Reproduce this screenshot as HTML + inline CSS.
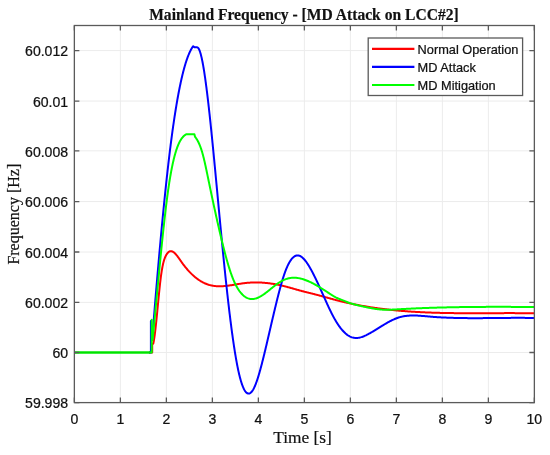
<!DOCTYPE html>
<html><head><meta charset="utf-8"><style>
html,body{margin:0;padding:0;background:#fff;width:550px;height:455px;overflow:hidden}
svg{display:block;filter:blur(0.3px)}
.sans{font-family:"Liberation Sans",Arial,sans-serif;font-size:14.6px;fill:#111;stroke:#111;stroke-width:0.25px}
.serif{font-family:"Liberation Serif","Times New Roman",serif;fill:#111;stroke:#111;stroke-width:0.2px}
</style></head><body>
<svg width="550" height="455" viewBox="0 0 550 455">
<rect x="0" y="0" width="550" height="455" fill="#fff"/>
<g stroke="#ececec" stroke-width="1.0" fill="none"><line x1="74.37" y1="25.50" x2="74.37" y2="402.60"/><line x1="120.37" y1="25.50" x2="120.37" y2="402.60"/><line x1="166.37" y1="25.50" x2="166.37" y2="402.60"/><line x1="212.37" y1="25.50" x2="212.37" y2="402.60"/><line x1="258.37" y1="25.50" x2="258.37" y2="402.60"/><line x1="304.37" y1="25.50" x2="304.37" y2="402.60"/><line x1="350.37" y1="25.50" x2="350.37" y2="402.60"/><line x1="396.37" y1="25.50" x2="396.37" y2="402.60"/><line x1="442.37" y1="25.50" x2="442.37" y2="402.60"/><line x1="488.37" y1="25.50" x2="488.37" y2="402.60"/><line x1="534.37" y1="25.50" x2="534.37" y2="402.60"/><line x1="74.37" y1="352.50" x2="534.37" y2="352.50"/><line x1="74.37" y1="302.40" x2="534.37" y2="302.40"/><line x1="74.37" y1="252.00" x2="534.37" y2="252.00"/><line x1="74.37" y1="201.55" x2="534.37" y2="201.55"/><line x1="74.37" y1="150.85" x2="534.37" y2="150.85"/><line x1="74.37" y1="101.05" x2="534.37" y2="101.05"/><line x1="74.37" y1="50.60" x2="534.37" y2="50.60"/></g>
<path d="M149.00,352.60 L152.20,352.60 L152.20,344.50 L153.30,343.50 L153.30,343.50 L153.46,342.78 L153.60,342.09 L153.74,341.35 L153.87,340.62 L153.99,339.92 L154.11,339.18 L154.22,338.47 L154.33,337.74 L154.44,336.98 L154.54,336.27 L154.64,335.54 L154.74,334.80 L154.84,334.03 L154.93,333.33 L155.02,332.61 L155.11,331.87 L155.20,331.13 L155.29,330.37 L155.38,329.60 L155.47,328.82 L155.55,328.12 L155.63,327.40 L155.71,326.68 L155.79,325.95 L155.87,325.22 L155.95,324.47 L156.03,323.72 L156.11,322.96 L156.19,322.20 L156.27,321.43 L156.35,320.65 L156.43,319.87 L156.51,319.08 L156.59,318.29 L156.66,317.59 L156.73,316.89 L156.80,316.18 L156.87,315.48 L156.94,314.77 L157.01,314.05 L157.08,313.34 L157.15,312.62 L157.22,311.90 L157.29,311.18 L157.36,310.46 L157.43,309.74 L157.50,309.01 L157.57,308.29 L157.64,307.56 L157.71,306.84 L157.78,306.11 L157.85,305.38 L157.92,304.66 L157.99,303.93 L158.06,303.20 L158.13,302.48 L158.20,301.75 L158.27,301.03 L158.34,300.31 L158.41,299.59 L158.48,298.87 L158.55,298.15 L158.62,297.44 L158.69,296.73 L158.76,296.02 L158.83,295.31 L158.90,294.61 L158.97,293.91 L159.04,293.21 L159.12,292.42 L159.20,291.63 L159.28,290.85 L159.36,290.07 L159.44,289.30 L159.52,288.54 L159.60,287.78 L159.68,287.03 L159.76,286.28 L159.84,285.55 L159.92,284.82 L160.00,284.10 L160.08,283.39 L160.16,282.68 L160.25,281.90 L160.34,281.13 L160.43,280.37 L160.52,279.63 L160.61,278.90 L160.70,278.18 L160.79,277.48 L160.89,276.71 L160.99,275.96 L161.09,275.23 L161.19,274.52 L161.29,273.82 L161.40,273.08 L161.51,272.35 L161.62,271.64 L161.74,270.89 L161.86,270.16 L161.98,269.46 L162.11,268.72 L162.24,268.00 L162.37,267.31 L162.51,266.59 L162.65,265.90 L162.80,265.18 L162.95,264.50 L163.11,263.80 L163.28,263.09 L163.46,262.37 L163.64,261.69 L163.83,261.01 L164.03,260.33 L164.24,259.66 L164.47,258.98 L164.71,258.31 L164.97,257.64 L165.24,256.99 L165.53,256.35 L165.84,255.72 L166.18,255.09 L166.54,254.47 L166.93,253.87 L167.35,253.30 L167.81,252.76 L168.31,252.27 L168.87,251.83 L169.48,251.49 L170.15,251.26 L170.85,251.18 L171.55,251.25 L172.23,251.46 L172.87,251.76 L173.47,252.13 L174.04,252.56 L174.58,253.02 L175.09,253.51 L175.58,254.02 L176.05,254.55 L176.51,255.09 L176.96,255.65 L177.40,256.21 L177.83,256.78 L178.25,257.35 L178.66,257.92 L179.07,258.50 L179.48,259.08 L179.89,259.67 L180.29,260.25 L180.69,260.82 L181.10,261.41 L181.51,261.99 L181.92,262.57 L182.33,263.14 L182.75,263.72 L183.17,264.28 L183.60,264.86 L184.03,265.42 L184.46,265.97 L184.90,266.53 L185.34,267.09 L185.79,267.64 L186.24,268.19 L186.69,268.72 L187.15,269.26 L187.61,269.79 L188.08,270.32 L188.55,270.85 L189.03,271.37 L189.51,271.88 L190.00,272.40 L190.49,272.90 L190.99,273.40 L191.49,273.90 L192.00,274.39 L192.51,274.87 L193.03,275.35 L193.56,275.83 L194.09,276.29 L194.63,276.75 L195.17,277.20 L195.72,277.65 L196.27,278.08 L196.83,278.51 L197.40,278.93 L197.97,279.34 L198.55,279.75 L199.14,280.15 L199.73,280.53 L200.33,280.91 L200.93,281.27 L201.54,281.62 L202.16,281.97 L202.78,282.30 L203.41,282.62 L204.04,282.93 L204.68,283.22 L205.33,283.51 L205.98,283.78 L206.64,284.04 L207.30,284.28 L207.97,284.51 L208.64,284.72 L209.32,284.92 L210.00,285.10 L210.68,285.27 L211.37,285.43 L212.06,285.57 L212.75,285.70 L213.45,285.82 L214.15,285.92 L214.85,286.00 L215.55,286.08 L216.25,286.14 L216.95,286.19 L217.65,286.22 L218.35,286.25 L219.05,286.27 L219.75,286.27 L220.45,286.26 L221.15,286.25 L221.85,286.22 L222.55,286.19 L223.25,286.15 L223.95,286.10 L224.65,286.04 L225.35,285.97 L226.05,285.90 L226.75,285.83 L227.45,285.74 L228.15,285.66 L228.85,285.56 L229.55,285.46 L230.25,285.36 L230.95,285.26 L231.65,285.15 L232.35,285.04 L233.05,284.93 L233.75,284.81 L234.45,284.69 L235.15,284.58 L235.85,284.46 L236.55,284.34 L237.25,284.22 L237.95,284.11 L238.65,283.99 L239.35,283.88 L240.05,283.77 L240.75,283.66 L241.45,283.55 L242.15,283.45 L242.85,283.35 L243.55,283.26 L244.25,283.17 L244.95,283.08 L245.65,283.01 L246.35,282.93 L247.05,282.86 L247.75,282.80 L248.45,282.74 L249.15,282.69 L249.85,282.65 L250.55,282.60 L251.25,282.57 L251.95,282.54 L252.65,282.51 L253.35,282.49 L254.05,282.47 L254.75,282.46 L255.45,282.46 L256.15,282.46 L256.85,282.46 L257.55,282.47 L258.25,282.48 L258.95,282.50 L259.65,282.52 L260.35,282.55 L261.05,282.59 L261.75,282.62 L262.45,282.67 L263.15,282.71 L263.85,282.77 L264.55,282.82 L265.25,282.88 L265.95,282.95 L266.65,283.02 L267.35,283.09 L268.05,283.17 L268.75,283.26 L269.45,283.35 L270.15,283.44 L270.85,283.53 L271.55,283.64 L272.25,283.74 L272.95,283.85 L273.65,283.97 L274.35,284.08 L275.04,284.21 L275.73,284.33 L276.42,284.46 L277.11,284.59 L277.80,284.73 L278.49,284.87 L279.18,285.01 L279.87,285.16 L280.56,285.32 L281.25,285.47 L281.94,285.63 L282.63,285.80 L283.32,285.96 L284.00,286.13 L284.68,286.30 L285.36,286.48 L286.04,286.65 L286.72,286.83 L287.40,287.01 L288.08,287.20 L288.76,287.38 L289.44,287.57 L290.12,287.76 L290.80,287.95 L291.48,288.14 L292.16,288.33 L292.84,288.52 L293.52,288.71 L294.20,288.90 L294.88,289.09 L295.56,289.29 L296.24,289.48 L296.92,289.67 L297.60,289.86 L298.28,290.05 L298.96,290.24 L299.64,290.42 L300.32,290.61 L301.00,290.79 L301.68,290.98 L302.36,291.16 L303.04,291.33 L303.72,291.51 L304.40,291.68 L305.08,291.86 L305.76,292.03 L306.44,292.20 L307.12,292.37 L307.80,292.54 L308.48,292.71 L309.16,292.88 L309.84,293.05 L310.52,293.22 L311.20,293.39 L311.88,293.56 L312.56,293.73 L313.24,293.90 L313.92,294.07 L314.60,294.25 L315.28,294.42 L315.96,294.60 L316.64,294.78 L317.32,294.96 L318.00,295.14 L318.68,295.32 L319.36,295.50 L320.04,295.69 L320.72,295.87 L321.40,296.06 L322.08,296.25 L322.76,296.44 L323.44,296.62 L324.12,296.81 L324.80,297.00 L325.48,297.19 L326.16,297.38 L326.84,297.57 L327.52,297.76 L328.20,297.95 L328.88,298.14 L329.56,298.33 L330.24,298.52 L330.92,298.71 L331.60,298.89 L332.28,299.08 L332.96,299.27 L333.64,299.45 L334.32,299.63 L335.00,299.81 L335.68,299.99 L336.36,300.17 L337.04,300.34 L337.72,300.52 L338.40,300.69 L339.08,300.86 L339.76,301.03 L340.44,301.20 L341.12,301.37 L341.81,301.54 L342.50,301.70 L343.19,301.87 L343.88,302.03 L344.57,302.19 L345.26,302.35 L345.95,302.51 L346.64,302.66 L347.33,302.82 L348.02,302.97 L348.71,303.13 L349.40,303.28 L350.09,303.43 L350.78,303.57 L351.47,303.72 L352.16,303.86 L352.85,304.01 L353.54,304.15 L354.23,304.29 L354.92,304.43 L355.61,304.57 L356.30,304.70 L356.99,304.84 L357.68,304.97 L358.37,305.10 L359.06,305.23 L359.75,305.36 L360.44,305.49 L361.13,305.62 L361.82,305.74 L362.51,305.87 L363.20,305.99 L363.89,306.11 L364.58,306.23 L365.27,306.35 L365.97,306.47 L366.67,306.58 L367.37,306.70 L368.07,306.81 L368.77,306.93 L369.47,307.04 L370.17,307.15 L370.87,307.26 L371.57,307.37 L372.27,307.47 L372.97,307.58 L373.67,307.68 L374.37,307.79 L375.07,307.89 L375.77,307.99 L376.47,308.09 L377.17,308.19 L377.87,308.28 L378.57,308.38 L379.27,308.47 L379.97,308.57 L380.67,308.66 L381.37,308.75 L382.07,308.84 L382.77,308.93 L383.47,309.01 L384.17,309.10 L384.87,309.18 L385.57,309.27 L386.27,309.35 L386.97,309.43 L387.67,309.51 L388.37,309.59 L389.07,309.67 L389.77,309.75 L390.47,309.82 L391.17,309.90 L391.87,309.97 L392.57,310.04 L393.27,310.11 L393.97,310.19 L394.67,310.25 L395.37,310.32 L396.07,310.39 L396.77,310.46 L397.47,310.52 L398.17,310.59 L398.87,310.65 L399.57,310.71 L400.27,310.77 L400.97,310.83 L401.67,310.89 L402.37,310.95 L403.07,311.01 L403.77,311.07 L404.47,311.12 L405.17,311.18 L405.87,311.23 L406.57,311.28 L407.27,311.33 L407.97,311.39 L408.67,311.44 L409.37,311.48 L410.07,311.53 L410.77,311.58 L411.47,311.63 L412.17,311.67 L412.87,311.72 L413.57,311.76 L414.27,311.80 L414.97,311.85 L415.67,311.89 L416.37,311.93 L417.07,311.97 L417.77,312.01 L418.47,312.05 L419.17,312.08 L419.87,312.12 L420.57,312.16 L421.27,312.19 L421.97,312.23 L422.67,312.26 L423.37,312.29 L424.07,312.32 L424.77,312.36 L425.47,312.39 L426.17,312.42 L426.87,312.45 L427.57,312.48 L428.27,312.50 L428.97,312.53 L429.67,312.56 L430.37,312.58 L431.07,312.61 L431.77,312.63 L432.47,312.66 L433.17,312.68 L433.87,312.70 L434.57,312.73 L435.27,312.75 L435.97,312.77 L436.67,312.79 L437.37,312.81 L438.07,312.83 L438.77,312.85 L439.47,312.86 L440.17,312.88 L440.87,312.90 L441.57,312.92 L442.27,312.93 L442.97,312.95 L443.67,312.96 L444.37,312.98 L445.07,312.99 L445.77,313.00 L446.47,313.02 L447.17,313.03 L447.87,313.04 L448.57,313.05 L449.27,313.06 L449.97,313.07 L450.67,313.08 L451.37,313.09 L452.07,313.10 L452.77,313.11 L453.47,313.12 L454.17,313.13 L454.87,313.13 L455.57,313.14 L456.27,313.15 L456.97,313.15 L457.67,313.16 L458.37,313.17 L459.07,313.17 L459.77,313.18 L460.47,313.18 L461.17,313.19 L461.87,313.19 L462.57,313.19 L463.27,313.20 L463.97,313.20 L464.67,313.20 L465.37,313.20 L466.07,313.21 L466.77,313.21 L467.47,313.21 L468.17,313.21 L468.87,313.21 L469.57,313.21 L470.27,313.22 L470.97,313.22 L471.67,313.22 L472.37,313.22 L473.07,313.22 L473.77,313.22 L474.47,313.21 L475.17,313.21 L475.87,313.21 L476.57,313.21 L477.27,313.21 L477.97,313.21 L478.67,313.21 L479.37,313.21 L480.07,313.20 L480.77,313.20 L481.47,313.20 L482.17,313.20 L482.87,313.20 L483.57,313.19 L484.27,313.19 L484.97,313.19 L485.67,313.19 L486.37,313.19 L487.07,313.18 L487.77,313.18 L488.47,313.18 L489.17,313.17 L489.87,313.17 L490.57,313.17 L491.27,313.17 L491.97,313.16 L492.67,313.16 L493.37,313.16 L494.07,313.16 L494.77,313.15 L495.47,313.15 L496.17,313.15 L496.87,313.15 L497.57,313.14 L498.27,313.14 L498.97,313.14 L499.67,313.14 L500.37,313.13 L501.07,313.13 L501.77,313.13 L502.47,313.13 L503.17,313.13 L503.87,313.13 L504.57,313.12 L505.27,313.12 L505.97,313.12 L506.67,313.12 L507.37,313.12 L508.07,313.12 L508.77,313.12 L509.47,313.12 L510.17,313.12 L510.87,313.12 L511.57,313.12 L512.27,313.12 L512.97,313.12 L513.67,313.12 L514.37,313.12 L515.07,313.13 L515.77,313.13 L516.47,313.13 L517.17,313.13 L517.87,313.14 L518.57,313.14 L519.27,313.14 L519.97,313.15 L520.67,313.15 L521.37,313.15 L522.07,313.16 L522.77,313.16 L523.47,313.17 L524.17,313.17 L524.87,313.18 L525.57,313.19 L526.27,313.19 L526.97,313.20 L527.67,313.21 L528.37,313.22 L529.07,313.22 L529.77,313.23 L530.47,313.24 L531.17,313.25 L531.87,313.26 L532.57,313.27 L533.27,313.28 L533.97,313.29 L534.30,313.30" fill="none" stroke="#ff0000" stroke-width="2.0" stroke-linejoin="round"/>
<path d="M149.00,352.60 L150.90,352.60 L150.90,321.00 L151.40,336.00 L152.20,339.00 L152.20,339.05 L152.26,338.29 L152.32,337.54 L152.38,336.79 L152.44,336.04 L152.50,335.28 L152.56,334.53 L152.62,333.78 L152.68,333.03 L152.74,332.28 L152.80,331.53 L152.86,330.78 L152.92,330.04 L152.98,329.29 L153.04,328.54 L153.10,327.80 L153.16,327.05 L153.22,326.31 L153.28,325.56 L153.34,324.82 L153.40,324.07 L153.46,323.33 L153.52,322.59 L153.58,321.85 L153.64,321.11 L153.70,320.37 L153.76,319.63 L153.82,318.89 L153.88,318.15 L153.94,317.41 L154.00,316.68 L154.06,315.94 L154.12,315.20 L154.18,314.47 L154.24,313.74 L154.30,313.00 L154.36,312.27 L154.42,311.54 L154.48,310.80 L154.54,310.07 L154.60,309.34 L154.66,308.61 L154.72,307.88 L154.78,307.15 L154.84,306.43 L154.90,305.70 L154.96,304.97 L155.02,304.25 L155.08,303.52 L155.14,302.80 L155.20,302.07 L155.26,301.35 L155.32,300.63 L155.38,299.91 L155.44,299.18 L155.50,298.46 L155.56,297.74 L155.62,297.03 L155.68,296.31 L155.74,295.59 L155.80,294.87 L155.86,294.16 L155.92,293.44 L155.98,292.73 L156.04,292.01 L156.10,291.30 L156.16,290.59 L156.22,289.87 L156.28,289.16 L156.34,288.45 L156.40,287.74 L156.46,287.03 L156.52,286.32 L156.58,285.62 L156.64,284.91 L156.70,284.20 L156.76,283.50 L156.82,282.79 L156.88,282.09 L156.94,281.39 L157.00,280.68 L157.06,279.98 L157.12,279.28 L157.18,278.58 L157.24,277.88 L157.30,277.18 L157.36,276.48 L157.43,275.67 L157.50,274.86 L157.57,274.05 L157.64,273.24 L157.71,272.43 L157.78,271.62 L157.85,270.81 L157.92,270.01 L157.99,269.20 L158.06,268.40 L158.13,267.59 L158.20,266.79 L158.27,265.99 L158.34,265.19 L158.41,264.39 L158.48,263.60 L158.55,262.80 L158.62,262.00 L158.69,261.21 L158.76,260.42 L158.83,259.63 L158.90,258.83 L158.97,258.05 L159.04,257.26 L159.11,256.47 L159.18,255.68 L159.25,254.90 L159.32,254.11 L159.39,253.33 L159.46,252.55 L159.53,251.77 L159.60,250.99 L159.67,250.21 L159.74,249.43 L159.81,248.66 L159.88,247.88 L159.95,247.11 L160.02,246.34 L160.09,245.57 L160.16,244.80 L160.23,244.03 L160.30,243.26 L160.37,242.49 L160.44,241.73 L160.51,240.96 L160.58,240.20 L160.65,239.44 L160.72,238.68 L160.79,237.92 L160.86,237.16 L160.93,236.41 L161.00,235.65 L161.07,234.90 L161.14,234.14 L161.21,233.39 L161.28,232.64 L161.35,231.89 L161.42,231.14 L161.49,230.40 L161.56,229.65 L161.63,228.91 L161.70,228.16 L161.77,227.42 L161.84,226.68 L161.91,225.94 L161.98,225.20 L162.05,224.47 L162.12,223.73 L162.19,223.00 L162.26,222.26 L162.33,221.53 L162.40,220.80 L162.47,220.07 L162.54,219.35 L162.61,218.62 L162.68,217.90 L162.75,217.17 L162.82,216.45 L162.89,215.73 L162.96,215.01 L163.03,214.29 L163.10,213.57 L163.17,212.86 L163.24,212.14 L163.31,211.43 L163.38,210.72 L163.45,210.01 L163.52,209.30 L163.59,208.59 L163.66,207.89 L163.73,207.18 L163.80,206.48 L163.87,205.78 L163.94,205.08 L164.01,204.38 L164.08,203.68 L164.16,202.88 L164.24,202.09 L164.32,201.30 L164.40,200.51 L164.48,199.72 L164.56,198.93 L164.64,198.15 L164.72,197.36 L164.80,196.58 L164.88,195.80 L164.96,195.03 L165.04,194.25 L165.12,193.48 L165.20,192.71 L165.28,191.94 L165.36,191.17 L165.44,190.40 L165.52,189.64 L165.60,188.88 L165.68,188.12 L165.76,187.36 L165.84,186.60 L165.92,185.85 L166.00,185.10 L166.08,184.35 L166.16,183.60 L166.24,182.85 L166.32,182.11 L166.40,181.37 L166.48,180.63 L166.56,179.89 L166.64,179.15 L166.72,178.42 L166.80,177.68 L166.88,176.95 L166.96,176.22 L167.04,175.50 L167.12,174.77 L167.20,174.05 L167.28,173.33 L167.36,172.61 L167.44,171.90 L167.52,171.18 L167.60,170.47 L167.68,169.76 L167.76,169.05 L167.84,168.35 L167.92,167.64 L168.00,166.94 L168.08,166.24 L168.16,165.54 L168.25,164.76 L168.34,163.98 L168.43,163.21 L168.52,162.43 L168.61,161.66 L168.70,160.89 L168.79,160.13 L168.88,159.36 L168.97,158.60 L169.06,157.84 L169.15,157.09 L169.24,156.34 L169.33,155.59 L169.42,154.84 L169.51,154.10 L169.60,153.36 L169.69,152.62 L169.78,151.88 L169.87,151.15 L169.96,150.42 L170.05,149.69 L170.14,148.97 L170.23,148.25 L170.32,147.53 L170.41,146.81 L170.50,146.10 L170.59,145.39 L170.68,144.68 L170.77,143.98 L170.86,143.28 L170.95,142.58 L171.04,141.88 L171.14,141.11 L171.24,140.34 L171.34,139.58 L171.44,138.82 L171.54,138.06 L171.64,137.31 L171.74,136.56 L171.84,135.81 L171.94,135.07 L172.04,134.33 L172.14,133.59 L172.24,132.86 L172.34,132.13 L172.44,131.40 L172.54,130.68 L172.64,129.96 L172.74,129.25 L172.84,128.53 L172.94,127.82 L173.04,127.12 L173.14,126.41 L173.24,125.71 L173.34,125.02 L173.44,124.33 L173.55,123.57 L173.66,122.81 L173.77,122.06 L173.88,121.32 L173.99,120.57 L174.10,119.84 L174.21,119.10 L174.32,118.37 L174.43,117.64 L174.54,116.92 L174.65,116.20 L174.76,115.49 L174.87,114.78 L174.98,114.07 L175.09,113.37 L175.20,112.67 L175.31,111.97 L175.43,111.22 L175.55,110.47 L175.67,109.73 L175.79,108.99 L175.91,108.25 L176.03,107.52 L176.15,106.79 L176.27,106.07 L176.39,105.36 L176.51,104.64 L176.63,103.94 L176.75,103.23 L176.87,102.53 L176.99,101.84 L177.11,101.15 L177.24,100.41 L177.37,99.67 L177.50,98.94 L177.63,98.21 L177.76,97.49 L177.89,96.78 L178.02,96.07 L178.15,95.36 L178.28,94.66 L178.41,93.97 L178.54,93.28 L178.68,92.54 L178.82,91.81 L178.96,91.08 L179.10,90.36 L179.24,89.65 L179.38,88.94 L179.52,88.24 L179.66,87.55 L179.80,86.86 L179.95,86.13 L180.10,85.40 L180.25,84.68 L180.40,83.97 L180.55,83.26 L180.70,82.57 L180.85,81.87 L181.00,81.19 L181.16,80.47 L181.32,79.75 L181.48,79.04 L181.64,78.34 L181.80,77.65 L181.96,76.96 L182.13,76.24 L182.30,75.53 L182.47,74.82 L182.64,74.13 L182.81,73.44 L182.98,72.76 L183.16,72.05 L183.34,71.35 L183.52,70.66 L183.70,69.97 L183.89,69.26 L184.08,68.56 L184.27,67.87 L184.46,67.19 L184.66,66.49 L184.86,65.79 L185.06,65.11 L185.26,64.44 L185.47,63.74 L185.68,63.06 L185.89,62.39 L186.11,61.70 L186.33,61.03 L186.56,60.33 L186.79,59.65 L187.02,58.99 L187.26,58.31 L187.50,57.65 L187.75,56.97 L188.00,56.31 L188.26,55.65 L188.52,55.00 L188.79,54.34 L189.07,53.68 L189.36,53.02 L189.65,52.37 L189.95,51.73 L190.26,51.09 L190.58,50.46 L190.91,49.83 L191.25,49.21 L191.60,48.60 L191.97,47.99 L192.35,47.40 L192.75,46.81 L193.17,46.24 L193.20,46.20 L193.20,46.20 L194.50,47.30 L197.20,47.30 L197.20,47.30 L197.83,47.59 L198.32,48.11 L198.71,48.70 L199.04,49.32 L199.34,49.98 L199.61,50.65 L199.86,51.33 L200.09,52.01 L200.31,52.70 L200.51,53.37 L200.71,54.08 L200.90,54.79 L201.08,55.49 L201.25,56.17 L201.42,56.88 L201.58,57.57 L201.74,58.29 L201.89,58.97 L202.04,59.68 L202.19,60.40 L202.33,61.10 L202.47,61.80 L202.61,62.53 L202.75,63.27 L202.88,63.97 L203.01,64.68 L203.14,65.40 L203.27,66.14 L203.39,66.83 L203.51,67.54 L203.63,68.25 L203.75,68.97 L203.87,69.71 L203.99,70.45 L204.11,71.21 L204.22,71.91 L204.33,72.62 L204.44,73.33 L204.55,74.06 L204.66,74.79 L204.77,75.53 L204.88,76.28 L204.99,77.04 L205.09,77.73 L205.19,78.43 L205.29,79.14 L205.39,79.85 L205.49,80.57 L205.59,81.30 L205.69,82.03 L205.79,82.76 L205.89,83.51 L205.99,84.26 L206.09,85.01 L206.19,85.77 L206.29,86.54 L206.38,87.23 L206.47,87.93 L206.56,88.63 L206.65,89.34 L206.74,90.05 L206.83,90.77 L206.92,91.49 L207.01,92.22 L207.10,92.94 L207.19,93.68 L207.28,94.41 L207.37,95.16 L207.46,95.90 L207.55,96.65 L207.64,97.40 L207.73,98.16 L207.82,98.92 L207.91,99.69 L208.00,100.45 L208.09,101.23 L208.18,102.00 L208.27,102.78 L208.35,103.48 L208.43,104.17 L208.51,104.88 L208.59,105.58 L208.67,106.29 L208.75,106.99 L208.83,107.71 L208.91,108.42 L208.99,109.14 L209.07,109.86 L209.15,110.58 L209.23,111.30 L209.31,112.03 L209.39,112.76 L209.47,113.49 L209.55,114.23 L209.63,114.96 L209.71,115.70 L209.79,116.44 L209.87,117.18 L209.95,117.93 L210.03,118.68 L210.11,119.43 L210.19,120.18 L210.27,120.93 L210.35,121.69 L210.43,122.45 L210.51,123.21 L210.59,123.97 L210.67,124.73 L210.75,125.50 L210.83,126.27 L210.91,127.03 L210.99,127.81 L211.07,128.58 L211.15,129.36 L211.23,130.13 L211.31,130.91 L211.39,131.69 L211.47,132.47 L211.55,133.26 L211.63,134.04 L211.71,134.83 L211.79,135.62 L211.87,136.41 L211.95,137.20 L212.03,138.00 L212.11,138.79 L212.18,139.49 L212.25,140.19 L212.32,140.89 L212.39,141.59 L212.46,142.29 L212.53,143.00 L212.60,143.70 L212.67,144.41 L212.74,145.11 L212.81,145.82 L212.88,146.53 L212.95,147.24 L213.02,147.95 L213.09,148.66 L213.16,149.38 L213.23,150.09 L213.30,150.80 L213.37,151.52 L213.44,152.24 L213.51,152.95 L213.58,153.67 L213.65,154.39 L213.72,155.11 L213.79,155.83 L213.86,156.55 L213.93,157.28 L214.00,158.00 L214.07,158.73 L214.14,159.45 L214.21,160.18 L214.28,160.90 L214.35,161.63 L214.42,162.36 L214.49,163.09 L214.56,163.82 L214.63,164.55 L214.70,165.28 L214.77,166.01 L214.84,166.74 L214.91,167.47 L214.98,168.21 L215.05,168.94 L215.12,169.68 L215.19,170.41 L215.26,171.15 L215.33,171.88 L215.40,172.62 L215.47,173.36 L215.54,174.09 L215.61,174.83 L215.68,175.57 L215.75,176.31 L215.82,177.05 L215.89,177.79 L215.96,178.53 L216.03,179.27 L216.10,180.01 L216.17,180.75 L216.24,181.50 L216.31,182.24 L216.38,182.98 L216.45,183.72 L216.52,184.47 L216.59,185.21 L216.66,185.95 L216.73,186.70 L216.80,187.44 L216.87,188.19 L216.94,188.93 L217.01,189.67 L217.08,190.42 L217.15,191.16 L217.22,191.91 L217.29,192.66 L217.36,193.40 L217.43,194.15 L217.50,194.89 L217.57,195.64 L217.64,196.38 L217.71,197.13 L217.78,197.87 L217.85,198.62 L217.92,199.37 L217.99,200.11 L218.06,200.86 L218.13,201.60 L218.20,202.35 L218.27,203.09 L218.34,203.84 L218.41,204.58 L218.48,205.33 L218.55,206.07 L218.62,206.82 L218.69,207.56 L218.76,208.31 L218.83,209.05 L218.90,209.80 L218.97,210.54 L219.04,211.28 L219.11,212.03 L219.18,212.77 L219.25,213.51 L219.32,214.26 L219.39,215.00 L219.46,215.74 L219.53,216.48 L219.60,217.22 L219.67,217.96 L219.74,218.70 L219.81,219.44 L219.88,220.18 L219.95,220.92 L220.02,221.66 L220.09,222.40 L220.16,223.14 L220.23,223.87 L220.30,224.61 L220.37,225.35 L220.44,226.08 L220.51,226.82 L220.58,227.55 L220.65,228.29 L220.72,229.02 L220.79,229.75 L220.86,230.49 L220.93,231.22 L221.00,231.95 L221.07,232.68 L221.14,233.41 L221.21,234.14 L221.28,234.87 L221.35,235.59 L221.42,236.32 L221.49,237.05 L221.56,237.77 L221.63,238.49 L221.70,239.22 L221.77,239.94 L221.84,240.66 L221.91,241.38 L221.98,242.10 L222.05,242.82 L222.12,243.54 L222.19,244.26 L222.26,244.98 L222.33,245.69 L222.40,246.41 L222.47,247.12 L222.54,247.83 L222.61,248.55 L222.68,249.26 L222.75,249.97 L222.82,250.67 L222.89,251.38 L222.96,252.09 L223.03,252.79 L223.10,253.50 L223.17,254.20 L223.24,254.91 L223.31,255.61 L223.38,256.31 L223.45,257.01 L223.52,257.70 L223.59,258.40 L223.67,259.20 L223.75,259.99 L223.83,260.78 L223.91,261.57 L223.99,262.36 L224.07,263.15 L224.15,263.94 L224.23,264.72 L224.31,265.50 L224.39,266.29 L224.47,267.07 L224.55,267.84 L224.63,268.62 L224.71,269.40 L224.79,270.17 L224.87,270.94 L224.95,271.71 L225.03,272.48 L225.11,273.25 L225.19,274.01 L225.27,274.78 L225.35,275.54 L225.43,276.30 L225.51,277.06 L225.59,277.82 L225.67,278.57 L225.75,279.33 L225.83,280.08 L225.91,280.83 L225.99,281.58 L226.07,282.33 L226.15,283.07 L226.23,283.82 L226.31,284.56 L226.39,285.30 L226.47,286.04 L226.55,286.77 L226.63,287.51 L226.71,288.24 L226.79,288.97 L226.87,289.70 L226.95,290.43 L227.03,291.15 L227.11,291.88 L227.19,292.60 L227.27,293.32 L227.35,294.04 L227.43,294.75 L227.51,295.47 L227.59,296.18 L227.67,296.89 L227.75,297.60 L227.83,298.31 L227.91,299.01 L227.99,299.71 L228.07,300.41 L228.15,301.11 L228.23,301.81 L228.32,302.59 L228.41,303.37 L228.50,304.15 L228.59,304.92 L228.68,305.69 L228.77,306.46 L228.86,307.22 L228.95,307.99 L229.04,308.75 L229.13,309.51 L229.22,310.26 L229.31,311.02 L229.40,311.77 L229.49,312.51 L229.58,313.26 L229.67,314.00 L229.76,314.74 L229.85,315.48 L229.94,316.21 L230.03,316.94 L230.12,317.67 L230.21,318.39 L230.30,319.12 L230.39,319.84 L230.48,320.55 L230.57,321.27 L230.66,321.98 L230.75,322.69 L230.84,323.39 L230.93,324.09 L231.02,324.79 L231.11,325.49 L231.21,326.26 L231.31,327.03 L231.41,327.79 L231.51,328.55 L231.61,329.30 L231.71,330.06 L231.81,330.80 L231.91,331.55 L232.01,332.29 L232.11,333.03 L232.21,333.76 L232.31,334.49 L232.41,335.21 L232.51,335.94 L232.61,336.65 L232.71,337.37 L232.81,338.08 L232.91,338.78 L233.01,339.48 L233.11,340.18 L233.21,340.88 L233.32,341.63 L233.43,342.39 L233.54,343.14 L233.65,343.88 L233.76,344.62 L233.87,345.35 L233.98,346.08 L234.09,346.80 L234.20,347.52 L234.31,348.24 L234.42,348.95 L234.53,349.65 L234.64,350.35 L234.75,351.04 L234.87,351.79 L234.99,352.53 L235.11,353.27 L235.23,354.00 L235.35,354.73 L235.47,355.45 L235.59,356.16 L235.71,356.86 L235.83,357.56 L235.95,358.26 L236.08,359.00 L236.21,359.73 L236.34,360.46 L236.47,361.18 L236.60,361.89 L236.73,362.60 L236.86,363.29 L236.99,363.98 L237.13,364.72 L237.27,365.44 L237.41,366.15 L237.55,366.86 L237.69,367.55 L237.84,368.29 L237.99,369.01 L238.14,369.72 L238.29,370.42 L238.44,371.11 L238.60,371.84 L238.76,372.55 L238.92,373.25 L239.08,373.93 L239.25,374.65 L239.42,375.35 L239.59,376.04 L239.77,376.75 L239.95,377.45 L240.13,378.13 L240.32,378.84 L240.51,379.52 L240.71,380.22 L240.91,380.91 L241.12,381.61 L241.33,382.29 L241.55,382.97 L241.77,383.64 L242.00,384.31 L242.24,384.99 L242.49,385.66 L242.75,386.33 L243.02,387.00 L243.30,387.66 L243.59,388.30 L243.90,388.94 L244.23,389.58 L244.58,390.20 L244.95,390.81 L245.35,391.39 L245.79,391.95 L246.27,392.47 L246.80,392.93 L247.40,393.31 L248.06,393.55 L248.76,393.61 L249.45,393.48 L250.09,393.19 L250.67,392.79 L251.19,392.32 L251.67,391.79 L252.11,391.23 L252.52,390.64 L252.90,390.04 L253.26,389.42 L253.60,388.80 L253.92,388.18 L254.23,387.54 L254.53,386.89 L254.82,386.24 L255.10,385.58 L255.37,384.92 L255.63,384.27 L255.89,383.60 L256.14,382.93 L256.39,382.25 L256.63,381.58 L256.87,380.89 L257.10,380.22 L257.33,379.54 L257.55,378.87 L257.77,378.19 L257.99,377.50 L258.20,376.83 L258.41,376.15 L258.62,375.46 L258.83,374.76 L259.03,374.08 L259.23,373.40 L259.43,372.70 L259.63,372.01 L259.83,371.30 L260.02,370.62 L260.21,369.93 L260.40,369.24 L260.59,368.55 L260.78,367.84 L260.97,367.13 L261.15,366.45 L261.33,365.77 L261.51,365.09 L261.69,364.39 L261.87,363.70 L262.05,363.00 L262.23,362.29 L262.41,361.58 L262.59,360.87 L262.77,360.16 L262.94,359.48 L263.11,358.79 L263.28,358.11 L263.45,357.42 L263.62,356.73 L263.79,356.03 L263.96,355.34 L264.13,354.64 L264.30,353.94 L264.47,353.24 L264.64,352.53 L264.81,351.83 L264.98,351.12 L265.15,350.41 L265.32,349.70 L265.49,348.98 L265.66,348.27 L265.83,347.55 L266.00,346.84 L266.17,346.12 L266.34,345.40 L266.51,344.68 L266.68,343.96 L266.85,343.23 L267.01,342.55 L267.17,341.87 L267.33,341.18 L267.49,340.50 L267.65,339.82 L267.81,339.13 L267.97,338.44 L268.13,337.76 L268.29,337.07 L268.45,336.38 L268.61,335.69 L268.77,335.01 L268.93,334.32 L269.09,333.63 L269.25,332.94 L269.41,332.25 L269.57,331.56 L269.73,330.87 L269.89,330.18 L270.05,329.49 L270.21,328.80 L270.37,328.11 L270.53,327.42 L270.69,326.73 L270.85,326.04 L271.01,325.35 L271.17,324.66 L271.33,323.97 L271.49,323.29 L271.65,322.60 L271.81,321.91 L271.97,321.22 L272.13,320.54 L272.29,319.85 L272.45,319.17 L272.61,318.49 L272.77,317.80 L272.93,317.12 L273.10,316.40 L273.27,315.68 L273.44,314.95 L273.61,314.23 L273.78,313.52 L273.95,312.80 L274.12,312.08 L274.29,311.37 L274.46,310.65 L274.63,309.94 L274.80,309.23 L274.97,308.52 L275.14,307.82 L275.31,307.11 L275.48,306.41 L275.65,305.71 L275.82,305.01 L275.99,304.31 L276.16,303.62 L276.33,302.92 L276.50,302.23 L276.67,301.54 L276.84,300.86 L277.01,300.17 L277.18,299.49 L277.35,298.81 L277.53,298.10 L277.71,297.38 L277.89,296.67 L278.07,295.96 L278.25,295.26 L278.43,294.56 L278.61,293.86 L278.79,293.17 L278.97,292.48 L279.15,291.79 L279.33,291.11 L279.51,290.43 L279.70,289.72 L279.89,289.01 L280.08,288.31 L280.27,287.61 L280.46,286.92 L280.65,286.23 L280.84,285.55 L281.03,284.87 L281.23,284.17 L281.43,283.47 L281.63,282.78 L281.83,282.09 L282.03,281.41 L282.23,280.74 L282.44,280.04 L282.65,279.35 L282.86,278.67 L283.07,278.00 L283.29,277.30 L283.51,276.62 L283.73,275.94 L283.95,275.28 L284.18,274.59 L284.41,273.92 L284.65,273.23 L284.89,272.56 L285.13,271.90 L285.38,271.22 L285.63,270.56 L285.89,269.89 L286.15,269.24 L286.42,268.57 L286.69,267.93 L286.97,267.27 L287.26,266.62 L287.56,265.96 L287.86,265.32 L288.17,264.68 L288.49,264.05 L288.82,263.42 L289.16,262.79 L289.51,262.18 L289.87,261.58 L290.25,260.97 L290.64,260.38 L291.05,259.80 L291.48,259.23 L291.93,258.68 L292.40,258.15 L292.89,257.64 L293.41,257.17 L293.96,256.72 L294.54,256.33 L295.16,255.98 L295.81,255.71 L296.49,255.51 L297.19,255.41 L297.89,255.41 L298.59,255.50 L299.27,255.68 L299.93,255.94 L300.56,256.26 L301.16,256.63 L301.74,257.04 L302.29,257.48 L302.82,257.95 L303.33,258.44 L303.82,258.94 L304.30,259.47 L304.76,260.00 L305.21,260.56 L305.65,261.12 L306.08,261.69 L306.50,262.27 L306.91,262.85 L307.31,263.44 L307.70,264.03 L308.08,264.62 L308.46,265.23 L308.83,265.83 L309.20,266.44 L309.56,267.05 L309.92,267.66 L310.27,268.27 L310.62,268.89 L310.97,269.52 L311.31,270.14 L311.65,270.77 L311.99,271.40 L312.32,272.02 L312.65,272.65 L312.98,273.29 L313.31,273.93 L313.63,274.56 L313.95,275.19 L314.27,275.83 L314.59,276.48 L314.90,277.11 L315.21,277.74 L315.52,278.38 L315.83,279.02 L316.14,279.67 L316.45,280.32 L316.75,280.95 L317.05,281.59 L317.35,282.23 L317.65,282.87 L317.95,283.52 L318.25,284.17 L318.55,284.82 L318.85,285.47 L319.15,286.13 L319.45,286.78 L319.74,287.42 L320.03,288.06 L320.32,288.70 L320.61,289.34 L320.90,289.99 L321.19,290.63 L321.48,291.28 L321.77,291.93 L322.06,292.57 L322.35,293.22 L322.64,293.87 L322.93,294.52 L323.22,295.17 L323.51,295.82 L323.80,296.47 L324.09,297.12 L324.38,297.77 L324.67,298.42 L324.96,299.06 L325.25,299.71 L325.54,300.36 L325.83,301.00 L326.12,301.64 L326.41,302.28 L326.70,302.92 L326.99,303.56 L327.29,304.22 L327.59,304.87 L327.89,305.52 L328.19,306.17 L328.49,306.81 L328.79,307.46 L329.09,308.09 L329.39,308.73 L329.70,309.38 L330.01,310.03 L330.32,310.67 L330.63,311.30 L330.94,311.93 L331.26,312.58 L331.58,313.22 L331.90,313.85 L332.22,314.48 L332.55,315.12 L332.88,315.75 L333.21,316.38 L333.55,317.01 L333.89,317.63 L334.23,318.25 L334.58,318.88 L334.93,319.49 L335.29,320.11 L335.65,320.73 L336.01,321.33 L336.38,321.94 L336.75,322.53 L337.13,323.13 L337.51,323.72 L337.90,324.32 L338.29,324.90 L338.69,325.48 L339.10,326.07 L339.51,326.64 L339.93,327.21 L340.36,327.78 L340.79,328.33 L341.23,328.89 L341.68,329.43 L342.14,329.98 L342.61,330.51 L343.09,331.04 L343.57,331.55 L344.06,332.05 L344.56,332.54 L345.08,333.03 L345.61,333.51 L346.15,333.96 L346.70,334.41 L347.26,334.83 L347.84,335.24 L348.43,335.63 L349.03,335.99 L349.65,336.34 L350.28,336.65 L350.92,336.94 L351.58,337.19 L352.25,337.41 L352.93,337.60 L353.62,337.75 L354.32,337.86 L355.02,337.94 L355.72,337.97 L356.42,337.98 L357.12,337.95 L357.82,337.88 L358.52,337.79 L359.21,337.67 L359.90,337.52 L360.58,337.35 L361.26,337.16 L361.93,336.95 L362.60,336.71 L363.26,336.47 L363.91,336.21 L364.56,335.93 L365.20,335.64 L365.84,335.35 L366.48,335.04 L367.11,334.72 L367.74,334.40 L368.36,334.07 L368.98,333.74 L369.60,333.40 L370.22,333.05 L370.83,332.71 L371.44,332.36 L372.05,332.00 L372.66,331.64 L373.27,331.28 L373.88,330.91 L374.48,330.55 L375.08,330.18 L375.68,329.82 L376.28,329.45 L376.88,329.07 L377.48,328.70 L378.08,328.33 L378.68,327.95 L379.28,327.58 L379.88,327.20 L380.48,326.83 L381.08,326.46 L381.68,326.09 L382.28,325.72 L382.88,325.35 L383.48,324.98 L384.08,324.62 L384.69,324.25 L385.30,323.89 L385.91,323.53 L386.52,323.18 L387.13,322.83 L387.74,322.48 L388.36,322.13 L388.98,321.79 L389.60,321.46 L390.22,321.13 L390.85,320.81 L391.48,320.49 L392.11,320.18 L392.75,319.87 L393.39,319.58 L394.03,319.29 L394.68,319.01 L395.33,318.74 L395.98,318.47 L396.64,318.22 L397.30,317.98 L397.97,317.75 L398.64,317.53 L399.31,317.33 L399.99,317.14 L400.67,316.96 L401.35,316.79 L402.04,316.63 L402.73,316.48 L403.42,316.35 L404.11,316.22 L404.81,316.11 L405.51,316.01 L406.21,315.91 L406.91,315.83 L407.61,315.76 L408.31,315.70 L409.01,315.65 L409.71,315.60 L410.41,315.57 L411.11,315.54 L411.81,315.52 L412.51,315.51 L413.21,315.51 L413.91,315.51 L414.61,315.52 L415.31,315.53 L416.01,315.55 L416.71,315.58 L417.41,315.61 L418.11,315.65 L418.81,315.69 L419.51,315.73 L420.21,315.78 L420.91,315.83 L421.61,315.88 L422.31,315.94 L423.01,316.00 L423.71,316.05 L424.41,316.12 L425.11,316.18 L425.81,316.24 L426.51,316.30 L427.21,316.37 L427.91,316.43 L428.61,316.49 L429.31,316.55 L430.01,316.61 L430.71,316.67 L431.41,316.72 L432.11,316.78 L432.81,316.83 L433.51,316.88 L434.21,316.94 L434.91,316.99 L435.61,317.03 L436.31,317.08 L437.01,317.13 L437.71,317.17 L438.41,317.21 L439.11,317.26 L439.81,317.30 L440.51,317.34 L441.21,317.38 L441.91,317.41 L442.61,317.45 L443.31,317.49 L444.01,317.52 L444.71,317.55 L445.41,317.59 L446.11,317.62 L446.81,317.65 L447.51,317.68 L448.21,317.70 L448.91,317.73 L449.61,317.76 L450.31,317.78 L451.01,317.80 L451.71,317.83 L452.41,317.85 L453.11,317.87 L453.81,317.89 L454.51,317.91 L455.21,317.93 L455.91,317.95 L456.61,317.96 L457.31,317.98 L458.01,317.99 L458.71,318.01 L459.41,318.02 L460.11,318.04 L460.81,318.05 L461.51,318.06 L462.21,318.07 L462.91,318.08 L463.61,318.09 L464.31,318.10 L465.01,318.10 L465.71,318.11 L466.41,318.12 L467.11,318.12 L467.81,318.13 L468.51,318.13 L469.21,318.14 L469.91,318.14 L470.61,318.15 L471.31,318.15 L472.01,318.15 L472.71,318.15 L473.41,318.15 L474.11,318.15 L474.81,318.15 L475.51,318.15 L476.21,318.15 L476.91,318.15 L477.61,318.15 L478.31,318.15 L479.01,318.14 L479.71,318.14 L480.41,318.14 L481.11,318.13 L481.81,318.13 L482.51,318.13 L483.21,318.12 L483.91,318.12 L484.61,318.11 L485.31,318.11 L486.01,318.10 L486.71,318.10 L487.41,318.09 L488.11,318.08 L488.81,318.08 L489.51,318.07 L490.21,318.06 L490.91,318.06 L491.61,318.05 L492.31,318.04 L493.01,318.04 L493.71,318.03 L494.41,318.02 L495.11,318.02 L495.81,318.01 L496.51,318.00 L497.21,317.99 L497.91,317.99 L498.61,317.98 L499.31,317.97 L500.01,317.97 L500.71,317.96 L501.41,317.95 L502.11,317.95 L502.81,317.94 L503.51,317.93 L504.21,317.93 L504.91,317.92 L505.61,317.91 L506.31,317.91 L507.01,317.90 L507.71,317.90 L508.41,317.89 L509.11,317.89 L509.81,317.88 L510.51,317.88 L511.21,317.87 L511.91,317.87 L512.61,317.87 L513.31,317.86 L514.01,317.86 L514.71,317.86 L515.41,317.86 L516.11,317.86 L516.81,317.85 L517.51,317.85 L518.21,317.85 L518.91,317.85 L519.61,317.85 L520.31,317.85 L521.01,317.86 L521.71,317.86 L522.41,317.86 L523.11,317.86 L523.81,317.87 L524.51,317.87 L525.21,317.88 L525.91,317.88 L526.61,317.89 L527.31,317.90 L528.01,317.90 L528.71,317.91 L529.41,317.92 L530.11,317.93 L530.81,317.94 L531.51,317.95 L532.21,317.96 L532.91,317.97 L533.61,317.99 L534.30,318.00" fill="none" stroke="#0000ff" stroke-width="2.0" stroke-linejoin="round"/>
<path d="M74.30,352.60 L151.70,352.60 L151.70,319.80 L152.00,336.00 L152.60,340.00 L152.60,340.01 L152.67,339.30 L152.74,338.58 L152.81,337.86 L152.88,337.15 L152.95,336.43 L153.02,335.71 L153.09,334.99 L153.16,334.27 L153.23,333.55 L153.30,332.83 L153.37,332.10 L153.44,331.38 L153.51,330.65 L153.58,329.93 L153.65,329.20 L153.72,328.48 L153.79,327.75 L153.86,327.02 L153.93,326.29 L154.00,325.57 L154.07,324.84 L154.14,324.11 L154.21,323.38 L154.28,322.64 L154.35,321.91 L154.42,321.18 L154.49,320.45 L154.56,319.72 L154.63,318.98 L154.70,318.25 L154.77,317.51 L154.84,316.78 L154.91,316.04 L154.98,315.31 L155.05,314.57 L155.12,313.84 L155.19,313.10 L155.26,312.37 L155.33,311.63 L155.40,310.89 L155.47,310.15 L155.54,309.42 L155.61,308.68 L155.68,307.94 L155.75,307.20 L155.82,306.47 L155.89,305.73 L155.96,304.99 L156.03,304.25 L156.10,303.51 L156.17,302.77 L156.24,302.04 L156.31,301.30 L156.38,300.56 L156.45,299.82 L156.52,299.08 L156.59,298.34 L156.66,297.60 L156.73,296.87 L156.80,296.13 L156.87,295.39 L156.94,294.65 L157.01,293.91 L157.08,293.18 L157.15,292.44 L157.22,291.70 L157.29,290.96 L157.36,290.23 L157.43,289.49 L157.50,288.75 L157.57,288.02 L157.64,287.28 L157.71,286.55 L157.78,285.81 L157.85,285.08 L157.92,284.34 L157.99,283.61 L158.06,282.88 L158.13,282.14 L158.20,281.41 L158.27,280.68 L158.34,279.95 L158.41,279.22 L158.48,278.49 L158.55,277.76 L158.62,277.03 L158.69,276.30 L158.76,275.57 L158.83,274.84 L158.90,274.11 L158.97,273.39 L159.04,272.66 L159.11,271.94 L159.18,271.21 L159.25,270.49 L159.32,269.76 L159.39,269.04 L159.46,268.32 L159.53,267.60 L159.60,266.88 L159.67,266.16 L159.74,265.44 L159.81,264.72 L159.88,264.01 L159.95,263.29 L160.02,262.58 L160.09,261.86 L160.16,261.15 L160.23,260.44 L160.30,259.72 L160.37,259.01 L160.44,258.30 L160.51,257.60 L160.58,256.89 L160.65,256.18 L160.72,255.48 L160.79,254.77 L160.86,254.07 L160.93,253.37 L161.00,252.67 L161.07,251.97 L161.14,251.27 L161.21,250.57 L161.29,249.78 L161.37,248.98 L161.45,248.19 L161.53,247.40 L161.61,246.61 L161.69,245.82 L161.77,245.04 L161.85,244.25 L161.93,243.47 L162.01,242.69 L162.09,241.91 L162.17,241.14 L162.25,240.36 L162.33,239.59 L162.41,238.82 L162.49,238.05 L162.57,237.28 L162.65,236.52 L162.73,235.76 L162.81,234.99 L162.89,234.24 L162.97,233.48 L163.05,232.72 L163.13,231.97 L163.21,231.22 L163.29,230.47 L163.37,229.73 L163.45,228.98 L163.53,228.24 L163.61,227.50 L163.69,226.77 L163.77,226.03 L163.85,225.30 L163.93,224.57 L164.01,223.85 L164.09,223.12 L164.17,222.40 L164.25,221.68 L164.33,220.96 L164.41,220.25 L164.49,219.54 L164.57,218.83 L164.65,218.12 L164.73,217.42 L164.81,216.72 L164.89,216.02 L164.97,215.32 L165.06,214.54 L165.15,213.77 L165.24,212.99 L165.33,212.22 L165.42,211.46 L165.51,210.70 L165.60,209.94 L165.69,209.19 L165.78,208.44 L165.87,207.69 L165.96,206.95 L166.05,206.21 L166.14,205.48 L166.23,204.74 L166.32,204.02 L166.41,203.30 L166.50,202.58 L166.59,201.86 L166.68,201.15 L166.77,200.45 L166.86,199.75 L166.95,199.05 L167.05,198.28 L167.15,197.51 L167.25,196.75 L167.35,196.00 L167.45,195.25 L167.55,194.51 L167.65,193.77 L167.75,193.04 L167.85,192.32 L167.95,191.60 L168.05,190.88 L168.15,190.17 L168.25,189.47 L168.35,188.78 L168.46,188.02 L168.57,187.27 L168.68,186.52 L168.79,185.78 L168.90,185.05 L169.01,184.33 L169.12,183.61 L169.23,182.90 L169.34,182.20 L169.45,181.50 L169.57,180.75 L169.69,180.01 L169.81,179.27 L169.93,178.54 L170.05,177.82 L170.17,177.11 L170.29,176.41 L170.41,175.71 L170.54,174.96 L170.67,174.23 L170.80,173.50 L170.93,172.78 L171.06,172.07 L171.19,171.37 L171.32,170.68 L171.46,169.94 L171.60,169.21 L171.74,168.50 L171.88,167.79 L172.02,167.09 L172.16,166.41 L172.31,165.68 L172.46,164.97 L172.61,164.26 L172.76,163.57 L172.92,162.84 L173.08,162.13 L173.24,161.42 L173.40,160.73 L173.57,160.01 L173.74,159.30 L173.91,158.61 L174.08,157.92 L174.26,157.21 L174.44,156.52 L174.62,155.84 L174.81,155.13 L175.00,154.45 L175.20,153.74 L175.40,153.05 L175.60,152.37 L175.81,151.68 L176.02,151.00 L176.24,150.31 L176.46,149.64 L176.69,148.96 L176.92,148.30 L177.16,147.63 L177.41,146.96 L177.67,146.28 L177.93,145.62 L178.20,144.97 L178.48,144.31 L178.77,143.66 L179.07,143.01 L179.38,142.38 L179.70,141.75 L180.04,141.11 L180.39,140.49 L180.75,139.89 L181.13,139.30 L181.53,138.71 L181.95,138.13 L182.39,137.57 L182.85,137.04 L183.33,136.52 L183.84,136.03 L184.37,135.56 L184.93,135.13 L185.51,134.73 L186.11,134.36 L186.40,134.20 L186.40,134.20 L194.40,134.20 L195.10,136.90 L195.10,136.90 L195.54,137.45 L195.96,138.02 L196.37,138.60 L196.76,139.20 L197.13,139.80 L197.49,140.42 L197.83,141.04 L198.16,141.67 L198.48,142.31 L198.79,142.96 L199.08,143.60 L199.36,144.24 L199.64,144.91 L199.91,145.58 L200.17,146.25 L200.42,146.91 L200.66,147.58 L200.90,148.26 L201.13,148.94 L201.35,149.60 L201.57,150.29 L201.78,150.96 L201.99,151.65 L202.19,152.33 L202.39,153.02 L202.58,153.69 L202.77,154.38 L202.96,155.09 L203.14,155.77 L203.32,156.47 L203.50,157.18 L203.67,157.86 L203.84,158.55 L204.01,159.25 L204.18,159.97 L204.35,160.69 L204.51,161.37 L204.67,162.07 L204.83,162.77 L204.99,163.48 L205.15,164.20 L205.31,164.92 L205.47,165.65 L205.62,166.33 L205.77,167.03 L205.92,167.72 L206.07,168.42 L206.22,169.13 L206.37,169.84 L206.52,170.55 L206.67,171.26 L206.82,171.98 L206.97,172.70 L207.12,173.42 L207.27,174.15 L207.42,174.87 L207.57,175.60 L207.72,176.33 L207.87,177.05 L208.02,177.78 L208.17,178.51 L208.32,179.24 L208.47,179.97 L208.62,180.70 L208.77,181.43 L208.92,182.16 L209.07,182.88 L209.22,183.61 L209.37,184.33 L209.52,185.06 L209.67,185.78 L209.82,186.50 L209.97,187.23 L210.12,187.95 L210.27,188.67 L210.42,189.38 L210.57,190.10 L210.72,190.82 L210.87,191.54 L211.02,192.25 L211.17,192.96 L211.32,193.68 L211.47,194.39 L211.62,195.10 L211.77,195.81 L211.92,196.52 L212.07,197.23 L212.22,197.94 L212.37,198.64 L212.52,199.35 L212.67,200.05 L212.82,200.75 L212.97,201.45 L213.12,202.16 L213.27,202.85 L213.42,203.55 L213.57,204.25 L213.72,204.95 L213.87,205.64 L214.02,206.34 L214.17,207.03 L214.32,207.72 L214.47,208.41 L214.62,209.10 L214.77,209.79 L214.92,210.47 L215.07,211.16 L215.22,211.84 L215.38,212.57 L215.54,213.30 L215.70,214.03 L215.86,214.75 L216.02,215.47 L216.18,216.19 L216.34,216.91 L216.50,217.63 L216.66,218.35 L216.82,219.06 L216.98,219.78 L217.14,220.49 L217.30,221.20 L217.46,221.91 L217.62,222.62 L217.78,223.32 L217.94,224.03 L218.10,224.73 L218.26,225.43 L218.42,226.13 L218.58,226.83 L218.74,227.52 L218.90,228.22 L219.06,228.91 L219.22,229.60 L219.38,230.29 L219.54,230.98 L219.70,231.66 L219.86,232.35 L220.02,233.03 L220.19,233.75 L220.36,234.47 L220.53,235.19 L220.70,235.91 L220.87,236.62 L221.04,237.34 L221.21,238.05 L221.38,238.75 L221.55,239.46 L221.72,240.16 L221.89,240.87 L222.06,241.57 L222.23,242.26 L222.40,242.96 L222.57,243.65 L222.74,244.34 L222.91,245.03 L223.08,245.71 L223.25,246.40 L223.42,247.08 L223.60,247.79 L223.78,248.51 L223.96,249.22 L224.14,249.92 L224.32,250.62 L224.50,251.32 L224.68,252.02 L224.86,252.71 L225.04,253.40 L225.22,254.08 L225.40,254.76 L225.59,255.48 L225.78,256.18 L225.97,256.89 L226.16,257.59 L226.35,258.28 L226.54,258.97 L226.73,259.65 L226.92,260.33 L227.12,261.04 L227.32,261.74 L227.52,262.43 L227.72,263.12 L227.92,263.80 L228.12,264.48 L228.33,265.18 L228.54,265.88 L228.75,266.56 L228.96,267.24 L229.17,267.92 L229.39,268.61 L229.61,269.30 L229.83,269.98 L230.05,270.65 L230.28,271.34 L230.51,272.02 L230.74,272.70 L230.97,273.36 L231.21,274.04 L231.45,274.71 L231.69,275.38 L231.94,276.05 L232.19,276.72 L232.44,277.38 L232.70,278.05 L232.96,278.70 L233.23,279.37 L233.50,280.03 L233.78,280.69 L234.06,281.35 L234.35,282.00 L234.64,282.65 L234.94,283.29 L235.25,283.94 L235.56,284.58 L235.88,285.21 L236.21,285.84 L236.55,286.47 L236.90,287.10 L237.26,287.72 L237.63,288.33 L238.01,288.94 L238.40,289.55 L238.80,290.14 L239.21,290.72 L239.63,291.30 L240.06,291.86 L240.50,292.42 L240.95,292.96 L241.42,293.49 L241.90,294.01 L242.39,294.52 L242.90,295.01 L243.42,295.48 L243.96,295.93 L244.52,296.37 L245.09,296.78 L245.68,297.16 L246.29,297.52 L246.92,297.84 L247.56,298.13 L248.22,298.39 L248.89,298.60 L249.57,298.78 L250.26,298.91 L250.96,298.99 L251.66,299.04 L252.36,299.04 L253.06,299.00 L253.76,298.91 L254.45,298.80 L255.14,298.64 L255.82,298.46 L256.49,298.24 L257.15,298.01 L257.80,297.74 L258.45,297.46 L259.09,297.15 L259.72,296.83 L260.34,296.49 L260.95,296.14 L261.55,295.78 L262.15,295.40 L262.74,295.02 L263.33,294.62 L263.91,294.22 L264.49,293.81 L265.06,293.39 L265.63,292.97 L266.19,292.55 L266.75,292.12 L267.31,291.68 L267.87,291.24 L268.42,290.81 L268.97,290.37 L269.52,289.92 L270.07,289.48 L270.62,289.03 L271.17,288.59 L271.72,288.14 L272.27,287.70 L272.82,287.26 L273.37,286.82 L273.92,286.38 L274.48,285.94 L275.04,285.51 L275.60,285.08 L276.16,284.66 L276.73,284.24 L277.30,283.83 L277.88,283.42 L278.46,283.02 L279.05,282.62 L279.64,282.24 L280.24,281.87 L280.84,281.50 L281.45,281.15 L282.07,280.81 L282.70,280.48 L283.33,280.17 L283.97,279.88 L284.62,279.60 L285.27,279.34 L285.93,279.09 L286.60,278.87 L287.27,278.66 L287.95,278.48 L288.64,278.31 L289.33,278.17 L290.02,278.05 L290.72,277.95 L291.42,277.87 L292.12,277.81 L292.82,277.77 L293.52,277.75 L294.22,277.75 L294.92,277.76 L295.62,277.80 L296.32,277.86 L297.02,277.93 L297.72,278.02 L298.42,278.13 L299.11,278.25 L299.80,278.39 L300.49,278.54 L301.18,278.71 L301.86,278.88 L302.54,279.08 L303.22,279.28 L303.89,279.50 L304.56,279.72 L305.22,279.96 L305.88,280.20 L306.54,280.46 L307.19,280.72 L307.84,280.99 L308.49,281.27 L309.13,281.56 L309.77,281.85 L310.41,282.15 L311.05,282.46 L311.68,282.77 L312.31,283.09 L312.94,283.41 L313.56,283.74 L314.18,284.07 L314.80,284.41 L315.42,284.75 L316.04,285.10 L316.65,285.44 L317.26,285.80 L317.87,286.15 L318.48,286.51 L319.09,286.88 L319.69,287.24 L320.29,287.61 L320.89,287.98 L321.49,288.35 L322.09,288.73 L322.69,289.11 L323.29,289.49 L323.88,289.86 L324.47,290.24 L325.06,290.63 L325.65,291.01 L326.24,291.39 L326.83,291.78 L327.42,292.17 L328.01,292.56 L328.60,292.94 L329.19,293.33 L329.78,293.72 L330.37,294.11 L330.96,294.50 L331.55,294.89 L332.14,295.27 L332.74,295.65 L333.34,296.02 L333.95,296.38 L334.56,296.74 L335.18,297.08 L335.81,297.41 L336.44,297.72 L337.08,298.01 L337.73,298.29 L338.38,298.55 L339.04,298.81 L339.70,299.06 L340.36,299.32 L341.02,299.58 L341.67,299.84 L342.32,300.11 L342.97,300.37 L343.62,300.64 L344.27,300.90 L344.92,301.17 L345.57,301.43 L346.22,301.69 L346.88,301.95 L347.54,302.21 L348.20,302.46 L348.86,302.70 L349.52,302.94 L350.19,303.17 L350.86,303.39 L351.53,303.61 L352.20,303.81 L352.88,304.01 L353.56,304.20 L354.24,304.39 L354.92,304.57 L355.60,304.75 L356.28,304.92 L356.96,305.09 L357.65,305.25 L358.34,305.41 L359.03,305.58 L359.72,305.73 L360.41,305.89 L361.10,306.05 L361.79,306.21 L362.48,306.36 L363.17,306.52 L363.86,306.67 L364.55,306.82 L365.24,306.97 L365.93,307.12 L366.62,307.27 L367.31,307.41 L368.00,307.55 L368.69,307.69 L369.38,307.82 L370.07,307.96 L370.76,308.08 L371.45,308.21 L372.14,308.33 L372.83,308.45 L373.53,308.57 L374.23,308.68 L374.93,308.79 L375.63,308.89 L376.33,308.99 L377.03,309.08 L377.73,309.17 L378.43,309.25 L379.13,309.33 L379.83,309.40 L380.53,309.47 L381.23,309.53 L381.93,309.58 L382.63,309.63 L383.33,309.67 L384.03,309.70 L384.73,309.73 L385.43,309.75 L386.13,309.76 L386.83,309.76 L387.53,309.76 L388.23,309.76 L388.93,309.75 L389.63,309.73 L390.33,309.71 L391.03,309.68 L391.73,309.66 L392.43,309.62 L393.13,309.59 L393.83,309.55 L394.53,309.52 L395.23,309.48 L395.93,309.43 L396.63,309.39 L397.33,309.35 L398.03,309.31 L398.73,309.27 L399.43,309.23 L400.13,309.19 L400.83,309.15 L401.53,309.11 L402.23,309.07 L402.93,309.03 L403.63,308.99 L404.33,308.95 L405.03,308.92 L405.73,308.88 L406.43,308.84 L407.13,308.81 L407.83,308.77 L408.53,308.74 L409.23,308.70 L409.93,308.67 L410.63,308.63 L411.33,308.60 L412.03,308.57 L412.73,308.53 L413.43,308.50 L414.13,308.47 L414.83,308.44 L415.53,308.41 L416.23,308.37 L416.93,308.34 L417.63,308.31 L418.33,308.28 L419.03,308.25 L419.73,308.23 L420.43,308.20 L421.13,308.17 L421.83,308.14 L422.53,308.11 L423.23,308.09 L423.93,308.06 L424.63,308.03 L425.33,308.01 L426.03,307.98 L426.73,307.96 L427.43,307.93 L428.13,307.91 L428.83,307.88 L429.53,307.86 L430.23,307.83 L430.93,307.81 L431.63,307.79 L432.33,307.76 L433.03,307.74 L433.73,307.72 L434.43,307.70 L435.13,307.68 L435.83,307.66 L436.53,307.64 L437.23,307.62 L437.93,307.60 L438.63,307.58 L439.33,307.56 L440.03,307.54 L440.73,307.52 L441.43,307.50 L442.13,307.48 L442.83,307.46 L443.53,307.45 L444.23,307.43 L444.93,307.41 L445.63,307.40 L446.33,307.38 L447.03,307.36 L447.73,307.35 L448.43,307.33 L449.13,307.32 L449.83,307.30 L450.53,307.29 L451.23,307.27 L451.93,307.26 L452.63,307.25 L453.33,307.23 L454.03,307.22 L454.73,307.21 L455.43,307.19 L456.13,307.18 L456.83,307.17 L457.53,307.16 L458.23,307.15 L458.93,307.13 L459.63,307.12 L460.33,307.11 L461.03,307.10 L461.73,307.09 L462.43,307.08 L463.13,307.07 L463.83,307.06 L464.53,307.05 L465.23,307.04 L465.93,307.03 L466.63,307.03 L467.33,307.02 L468.03,307.01 L468.73,307.00 L469.43,306.99 L470.13,306.99 L470.83,306.98 L471.53,306.97 L472.23,306.97 L472.93,306.96 L473.63,306.95 L474.33,306.95 L475.03,306.94 L475.73,306.94 L476.43,306.93 L477.13,306.92 L477.83,306.92 L478.53,306.91 L479.23,306.91 L479.93,306.91 L480.63,306.90 L481.33,306.90 L482.03,306.89 L482.73,306.89 L483.43,306.89 L484.13,306.88 L484.83,306.88 L485.53,306.88 L486.23,306.87 L486.93,306.87 L487.63,306.87 L488.33,306.87 L489.03,306.86 L489.73,306.86 L490.43,306.86 L491.13,306.86 L491.83,306.86 L492.53,306.86 L493.23,306.86 L493.93,306.85 L494.63,306.85 L495.33,306.85 L496.03,306.85 L496.73,306.85 L497.43,306.85 L498.13,306.85 L498.83,306.85 L499.53,306.85 L500.23,306.85 L500.93,306.85 L501.63,306.85 L502.33,306.86 L503.03,306.86 L503.73,306.86 L504.43,306.86 L505.13,306.86 L505.83,306.86 L506.53,306.86 L507.23,306.86 L507.93,306.87 L508.63,306.87 L509.33,306.87 L510.03,306.87 L510.73,306.87 L511.43,306.88 L512.13,306.88 L512.83,306.88 L513.53,306.88 L514.23,306.89 L514.93,306.89 L515.63,306.89 L516.33,306.90 L517.03,306.90 L517.73,306.90 L518.43,306.91 L519.13,306.91 L519.83,306.91 L520.53,306.92 L521.23,306.92 L521.93,306.92 L522.63,306.93 L523.33,306.93 L524.03,306.94 L524.73,306.94 L525.43,306.94 L526.13,306.95 L526.83,306.95 L527.53,306.96 L528.23,306.96 L528.93,306.96 L529.63,306.97 L530.33,306.97 L531.03,306.98 L531.73,306.98 L532.43,306.99 L533.13,306.99 L533.83,307.00 L534.30,307.00" fill="none" stroke="#00ff00" stroke-width="2.0" stroke-linejoin="round"/>
<line x1="74.3" y1="352.6" x2="150.2" y2="352.6" stroke="#00e000" stroke-width="2.0"/>
<rect x="74.37" y="25.50" width="460.00" height="377.10" fill="none" stroke="#5a5a5a" stroke-width="1.3"/>
<path d="M74.37,402.60v-5.00M74.37,25.50v5.00M120.37,402.60v-5.00M120.37,25.50v5.00M166.37,402.60v-5.00M166.37,25.50v5.00M212.37,402.60v-5.00M212.37,25.50v5.00M258.37,402.60v-5.00M258.37,25.50v5.00M304.37,402.60v-5.00M304.37,25.50v5.00M350.37,402.60v-5.00M350.37,25.50v5.00M396.37,402.60v-5.00M396.37,25.50v5.00M442.37,402.60v-5.00M442.37,25.50v5.00M488.37,402.60v-5.00M488.37,25.50v5.00M534.37,402.60v-5.00M534.37,25.50v5.00M74.37,402.60h5.00M534.37,402.60h-5.00M74.37,352.50h5.00M534.37,352.50h-5.00M74.37,302.40h5.00M534.37,302.40h-5.00M74.37,252.00h5.00M534.37,252.00h-5.00M74.37,201.55h5.00M534.37,201.55h-5.00M74.37,150.85h5.00M534.37,150.85h-5.00M74.37,101.05h5.00M534.37,101.05h-5.00M74.37,50.60h5.00M534.37,50.60h-5.00" stroke="#5a5a5a" stroke-width="1.3" fill="none"/>
<g>
<rect x="368.2" y="38.0" width="154.4" height="57.5" fill="#fff" stroke="#5a5a5a" stroke-width="1.3"/>
<line x1="372" y1="48.8" x2="414.4" y2="48.8" stroke="#ff0000" stroke-width="2.2"/>
<line x1="372" y1="66.9" x2="414.4" y2="66.9" stroke="#0000ff" stroke-width="2.2"/>
<line x1="372" y1="85.0" x2="414.4" y2="85.0" stroke="#00ff00" stroke-width="2.2"/>
<g class="sans" style="font-size:13.6px">
<text transform="translate(417.6,54.4) scale(0.94,1)">Normal Operation</text>
<text transform="translate(417.6,72.1) scale(0.94,1)">MD Attack</text>
<text transform="translate(417.6,90.1) scale(0.94,1)">MD Mitigation</text>
</g>
</g>
<g class="sans" text-anchor="end"><text transform="translate(68.1,408.30) scale(0.965,1)">59.998</text><text transform="translate(68.1,358.20) scale(0.965,1)">60</text><text transform="translate(68.1,308.10) scale(0.965,1)">60.002</text><text transform="translate(68.1,257.70) scale(0.965,1)">60.004</text><text transform="translate(68.1,207.25) scale(0.965,1)">60.006</text><text transform="translate(68.1,156.55) scale(0.965,1)">60.008</text><text transform="translate(68.1,106.75) scale(0.965,1)">60.01</text><text transform="translate(68.1,56.30) scale(0.965,1)">60.012</text></g>
<g class="sans" text-anchor="middle"><text transform="translate(74.37,424.1) scale(0.965,1)">0</text><text transform="translate(120.37,424.1) scale(0.965,1)">1</text><text transform="translate(166.37,424.1) scale(0.965,1)">2</text><text transform="translate(212.37,424.1) scale(0.965,1)">3</text><text transform="translate(258.37,424.1) scale(0.965,1)">4</text><text transform="translate(304.37,424.1) scale(0.965,1)">5</text><text transform="translate(350.37,424.1) scale(0.965,1)">6</text><text transform="translate(396.37,424.1) scale(0.965,1)">7</text><text transform="translate(442.37,424.1) scale(0.965,1)">8</text><text transform="translate(488.37,424.1) scale(0.965,1)">9</text><text transform="translate(534.37,424.1) scale(0.965,1)">10</text></g>
<text class="serif" transform="translate(303.9,19.8) scale(0.886,1)" x="0" y="0" text-anchor="middle" style="font-size:17.6px;font-weight:bold">Mainland Frequency - [MD Attack on LCC#2]</text>
<text class="serif" transform="translate(302.6,443.1) scale(1.02,1)" x="0" y="0" text-anchor="middle" style="font-size:17px">Time [s]</text>
<text class="serif" transform="translate(19.1,214.2) rotate(-90)" x="0" y="0" text-anchor="middle" style="font-size:16px">Frequency [Hz]</text>
</svg>
</body></html>
